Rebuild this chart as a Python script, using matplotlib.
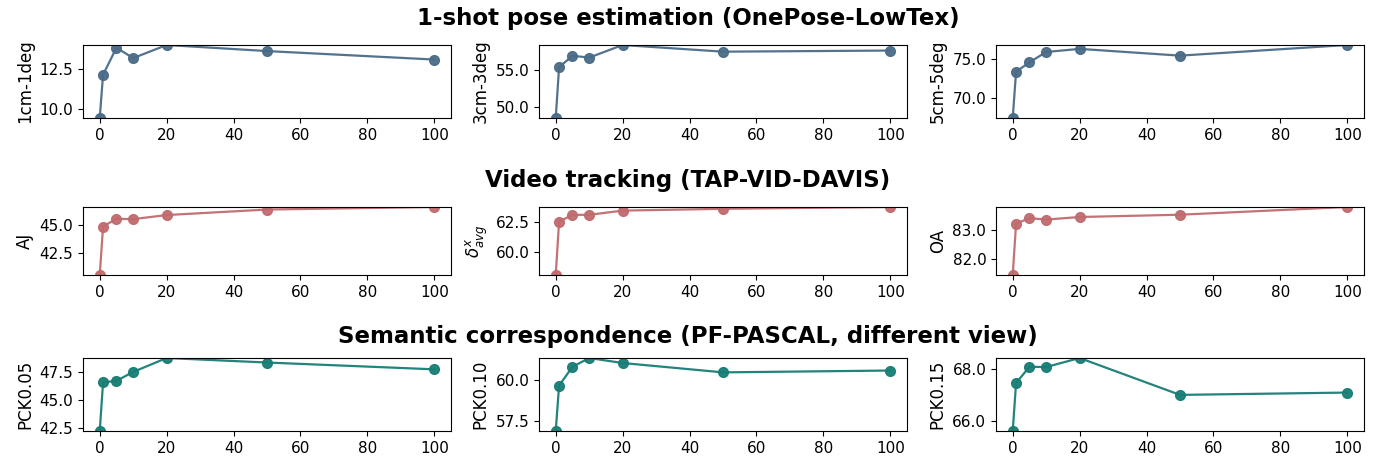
import matplotlib
matplotlib.use("Agg")
import matplotlib.pyplot as plt
from matplotlib.ticker import FormatStrFormatter

x_vals = [0, 1, 5, 10, 20, 50, 100]

# Row 1: 1-shot pose estimation (OnePose-LowTex)
pose_1cm1deg = [9.42, 12.13, 13.82, 13.17, 13.99, 13.61, 13.08]
pose_3cm3deg = [48.55, 55.4, 56.95, 56.7, 58.4, 57.5, 57.65]
pose_5cm5deg = [67.4, 73.36, 74.57, 75.9, 76.3, 75.43, 76.8]

# Row 2: Video tracking (TAP-VID-DAVIS)
track_aj = [40.5, 44.9, 45.6, 45.57, 45.94, 46.44, 46.67]
track_delta = [58.1, 62.53, 63.1, 63.1, 63.45, 63.6, 63.75]
track_oa = [81.43, 83.23, 83.42, 83.37, 83.46, 83.54, 83.81]

# Row 3: Semantic correspondence (PF-PASCAL, different view)
sc_pck005 = [42.25, 46.55, 46.68, 47.47, 48.7, 48.3, 47.7]
sc_pck010 = [56.93, 59.65, 60.77, 61.3, 61.0, 60.44, 60.55]
sc_pck015 = [65.6, 67.46, 68.09, 68.08, 68.43, 67.0, 67.09]

row_titles = [
    "1-shot pose estimation (OnePose-LowTex)",
    "Video tracking (TAP-VID-DAVIS)",
    "Semantic correspondence (PF-PASCAL, different view)",
]
ylabels = [
    ["1cm-1deg", "3cm-3deg", "5cm-5deg"],
    ["AJ", r"$\delta^{x}_{avg}$", "OA"],
    ["PCK0.05", "PCK0.10", "PCK0.15"],
]
series = [
    [pose_1cm1deg, pose_3cm3deg, pose_5cm5deg],
    [track_aj, track_delta, track_oa],
    [sc_pck005, sc_pck010, sc_pck015],
]
colors = ["#4a6b87", "#c06a6e", "#177d75"]

W, H = 1376, 471
fig = plt.figure(figsize=(W / 100, H / 100), dpi=100)

lefts = [83, 539, 996]
width = 368
row_boxes = [(45, 118), (207, 275), (358, 431)]  # top, bottom in px
title_y = [19, 181, 336]

for r in range(3):
    top, bot = row_boxes[r]
    for c in range(3):
        ax = fig.add_axes([lefts[c] / W, 1 - bot / H, width / W, (bot - top) / H])
        ax.plot(x_vals, series[r][c], marker="o", color=colors[r], markersize=7,
                linewidth=1.6, alpha=0.95)
        ax.margins(y=0)
        ax.set_xticks([0, 20, 40, 60, 80, 100])
        ax.yaxis.set_major_formatter(FormatStrFormatter("%.1f"))
        ax.set_ylabel(ylabels[r][c], fontsize=12)
        ax.tick_params(labelsize=11)
    fig.text(0.5, 1 - title_y[r] / H, row_titles[r], ha="center", va="center",
             fontsize=16.5, fontweight="bold")

fig.savefig("out.png", dpi=100)
